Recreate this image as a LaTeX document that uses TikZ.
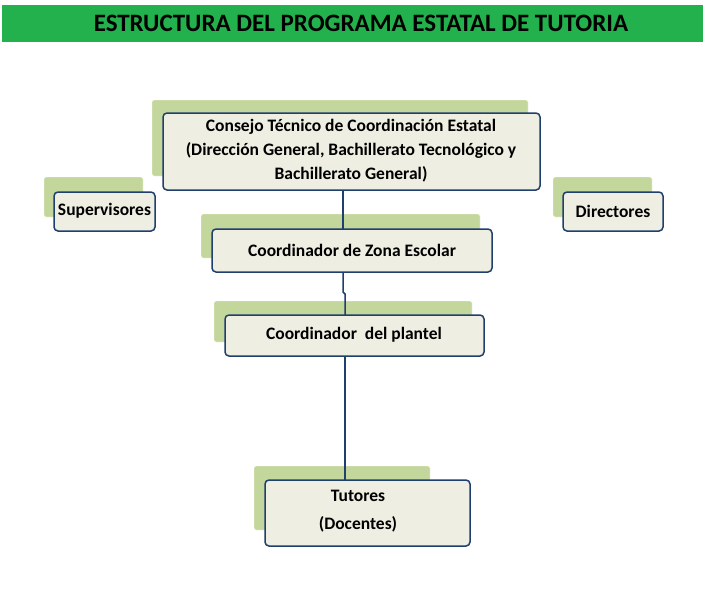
\documentclass[tikz,border=0pt]{standalone}
\usepackage{fontspec}
\setmainfont{Carlito}
\begin{document}
\begin{tikzpicture}[x=1pt,y=-1pt,
  back/.style={fill=backg, draw=white, rounded corners=2pt},
  box/.style={fill=boxf, draw=bord, line width=1.5pt, rounded corners=4pt},
  lbl/.style={font=\bfseries\fontsize{17.5}{24}\selectfont, align=center, text=black},
  conn/.style={draw=bord, line width=1.5pt}]
\definecolor{backg}{HTML}{C3D69B}
\definecolor{boxf}{HTML}{EEEEE2}
\definecolor{bord}{HTML}{1F3F6F}
\definecolor{titg}{HTML}{22B14C}
\useasboundingbox[fill=white] (0,0) rectangle (705,600);
\fill[titg] (2,5) rectangle (703,42);
\node[font=\bfseries\fontsize{25}{28}\selectfont] (title) at (361,23) {ESTRUCTURA DEL PROGRAMA ESTATAL DE TUTORIA};
% backgrounds
\draw[back] (152,100) rectangle (528,176);
\draw[back] (44,177) rectangle (143,217);
\draw[back] (553,177) rectangle (652,217);
\draw[back] (201,214) rectangle (480,258);
\draw[back] (214,301) rectangle (472,342);
\draw[back] (254,466) rectangle (430,530);
% connectors
\draw[conn] (343,190) -- (343,229);
\draw[conn] (343,272) -- (343,292) -- (345,294) -- (345,315);
\draw[conn] (345,356) -- (345,480);
% boxes
\draw[box] (163,113) rectangle (540,190);
\node[lbl] (cte) at (351,151) {Consejo Técnico de Coordinación Estatal\\(Dirección General, Bachillerato Tecnológico y\\Bachillerato General)};
\draw[box] (54,192) rectangle (155,231);
\node[lbl] (sup) at (104.5,211) {Supervisores};
\draw[box] (563,192) rectangle (663,231);
\node[lbl] (dir) at (613,211) {Directores};
\draw[box] (212,229) rectangle (492,272);
\node[lbl] (zona) at (352,250) {Coordinador de Zona Escolar};
\draw[box] (225,315) rectangle (484,356);
\node[lbl] (plan) at (354,335) {Coordinador\ \ del plantel};
\draw[box] (265,480) rectangle (470,546);
\node[lbl] (tut) at (358,511) {Tutores\\[4pt](Docentes)};
\end{tikzpicture}
\end{document}
